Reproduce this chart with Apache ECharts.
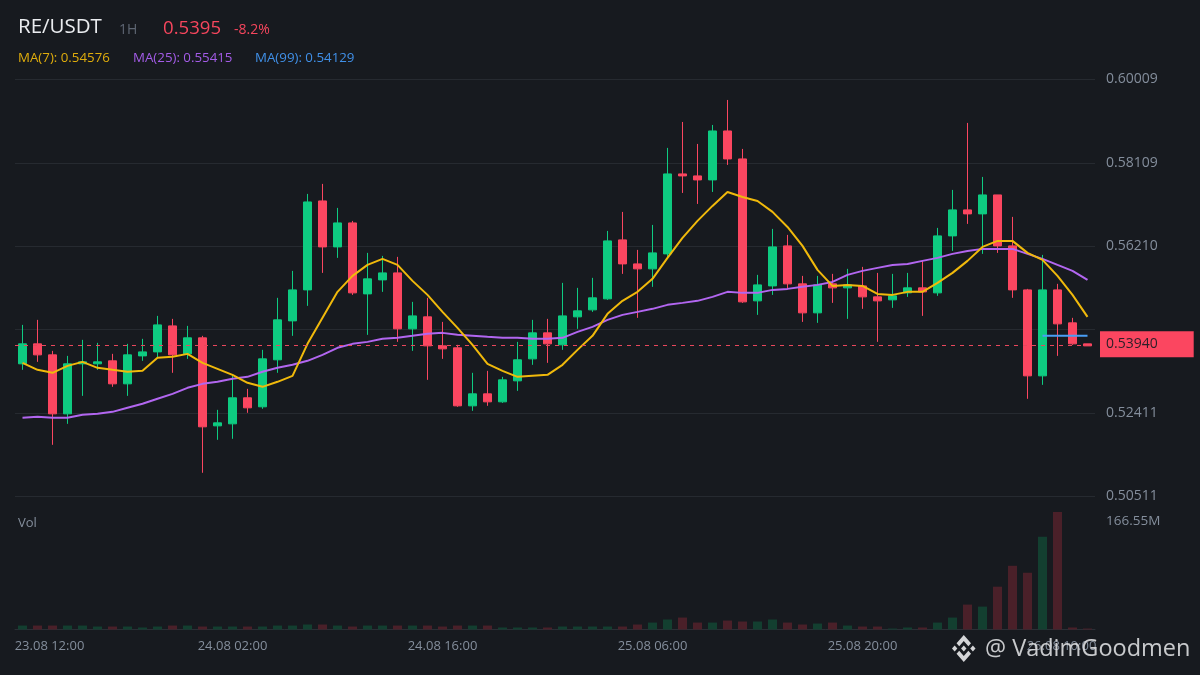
<!DOCTYPE html>
<html>
<head>
<meta charset="utf-8">
<style>html,body{margin:0;padding:0;background:#171A1F}#c{width:1200px;height:675px}</style>
<script src="https://cdn.jsdelivr.net/npm/echarts@6/dist/echarts.min.js"></script>
</head>
<body>
<div id="c"></div>
<script>
const opens = [.53533,.53988,.53737,.52394,.53533,.53533,.53601,.53077,.53714,.53805,.54397,.53760,.54125,.52120,.52166,.52759,.52554,.53624,.54511,.55217,.57243,.56196,.56742,.55126,.55445,.55604,.54330,.54603,.53942,.53897,.52576,.52849,.52667,.53145,.53646,.54238,.53965,.54603,.54762,.55013,.56356,.55809,.55696,.56037,.57858,.57813,.57722,.58837,.58200,.54967,.55308,.56219,.55354,.54694,.55354,.55263,.55308,.55058,.54990,.55149,.55263,.55149,.56447,.57039,.56948,.57380,.56219,.55217,.53259,.55217,.54466,.53988];
const closes = [.53988,.53737,.52394,.53533,.53578,.53578,.53077,.53737,.53805,.54420,.53737,.54125,.52098,.52189,.52759,.52531,.53646,.54534,.55217,.57220,.56196,.56742,.55149,.55468,.55604,.54330,.54625,.53942,.53874,.52576,.52849,.52667,.53168,.53624,.54238,.53988,.54625,.54739,.55036,.56333,.55809,.55696,.56060,.57858,.57813,.57722,.58837,.58200,.54944,.55331,.56196,.55354,.54694,.55331,.55263,.55331,.55058,.54967,.55081,.55263,.55172,.56447,.57039,.56948,.57380,.56219,.55217,.53259,.55217,.54443,.53988,.53942];
const lows = [.53396,.53578,.51688,.52166,.52803,.53396,.53009,.52803,.53601,.53669,.53328,.53646,.51051,.51802,.51825,.52417,.52508,.53328,.54170,.54853,.55604,.55946,.55103,.54193,.55172,.54033,.53828,.53168,.53646,.52554,.52462,.52576,.52644,.52917,.53510,.53555,.53851,.54330,.54716,.54990,.55582,.54580,.55286,.55946,.57425,.57175,.57448,.58063,.54921,.54648,.55103,.55240,.54488,.54466,.54921,.54557,.54785,.54033,.54807,.55058,.54625,.55081,.56105,.56720,.56037,.56060,.55036,.52736,.53054,.53714,.53965,.53942];
const highs = [.54420,.54534,.53828,.53714,.54079,.54011,.53760,.53988,.54102,.54625,.54557,.54397,.54170,.52485,.53282,.52963,.53851,.55036,.55650,.57403,.57631,.57084,.56788,.56060,.55991,.55969,.54944,.55036,.54488,.53965,.53328,.53373,.53236,.54033,.54534,.54557,.55377,.55263,.55491,.56560,.56993,.56128,.56697,.58451,.59042,.58541,.58974,.59543,.58428,.55559,.56606,.56470,.55536,.55536,.55582,.55696,.55741,.55604,.55582,.55604,.55878,.56629,.57494,.59020,.57790,.57380,.56880,.55240,.56014,.55354,.54580,.53988];
const ma7 = [.53555,.53396,.53328,.53487,.53578,.53442,.53396,.53351,.53373,.53669,.53692,.53760,.53555,.53419,.53282,.53100,.53009,.53123,.53259,.53988,.54580,.55172,.55536,.55786,.55923,.55786,.55422,.55103,.54716,.54352,.53965,.53533,.53373,.53236,.53259,.53282,.53510,.53851,.54170,.54671,.54967,.55172,.55468,.55946,.56401,.56788,.57130,.57448,.57334,.57243,.56993,.56651,.56219,.55673,.55308,.55331,.55308,.55126,.55103,.55172,.55172,.55377,.55604,.55878,.56196,.56333,.56333,.56060,.55900,.55536,.55103,.54603];
const ma25 = [.52303,.52326,.52303,.52303,.52371,.52394,.52439,.52531,.52622,.52736,.52849,.52986,.53077,.53123,.53191,.53236,.53351,.53442,.53510,.53601,.53737,.53897,.53988,.54033,.54102,.54125,.54170,.54216,.54238,.54193,.54170,.54147,.54125,.54125,.54102,.54102,.54125,.54261,.54375,.54534,.54648,.54716,.54785,.54876,.54921,.54967,.55058,.55172,.55149,.55149,.55217,.55240,.55286,.55331,.55399,.55559,.55650,.55718,.55786,.55809,.55878,.55946,.56037,.56105,.56151,.56151,.56151,.56037,.55923,.55786,.55650,.55445];
const ma99Tail = [.54170,.54170,.54170,.54170];
const volumes = [6.1,6.1,6.1,6.1,6.1,4.6,4.6,4.6,3.1,4.6,6.1,6.1,4.6,4.6,4.6,4.6,4.6,6.1,6.1,7.7,7.7,6.1,4.6,6.1,6.1,6.1,6.1,6.1,4.6,6.1,6.1,6.1,3.1,3.1,3.1,3.1,4.6,4.6,4.6,4.6,4.6,7.7,10.7,15.4,18.4,10.7,10.7,13.8,12.3,12.3,15.4,10.7,7.7,9.2,10.7,6.1,4.6,4.6,1.5,3.1,3.1,10.7,18.4,38.4,35.3,66.0,98.2,87.5,142.8,181.1,3.1,1.5];
const priceTicks = [.50511,.52411,.54310,.56210,.58109,.60009];
const priceLabels = [.50511,.52411,.56210,.58109,.60009];
const lastPriceLine = .53955;
const lastPriceTag = '0.53940';
const volumeLabel = 166.55;
const volumeMax = 184.2;
const timeTicks = {0:'23.08 12:00',14:'24.08 02:00',28:'24.08 16:00',42:'25.08 06:00',56:'25.08 20:00',70:'26.08 10:00'};

const UP='#0ECB81', DOWN='#FB4660', UPV='#133F30', DOWNV='#4A2029';
const GRAY='#848E9C', LINE='#262A30', FONT='"Open Sans","Noto Sans",sans-serif';
const categories = opens.map((_, i) => String(i));
const candles = opens.map((o, i) => [o, closes[i], lows[i], highs[i]]);
const ma99 = opens.map((_, i) => i >= opens.length - ma99Tail.length ? ma99Tail[i - opens.length + ma99Tail.length] : null);
const volData = volumes.map((v, i) => ({value: v, itemStyle: {color: closes[i] >= opens[i] ? UPV : DOWNV}}));
const head = (text, left, top, color, size) => ({text, left, top, padding: 0, textStyle: {color, fontSize: size, fontWeight: 'normal', fontFamily: FONT}});
const maLine = (name, data, color) => ({name, type: 'line', data, xAxisIndex: 0, yAxisIndex: 0, symbol: 'none', smooth: false, lineStyle: {color, width: 2}, silent: true, connectNulls: false});
const LOGO = [
  [[38.73,53.2],[63.32,28.62],[87.92,53.22],[102.22,38.91],[63.32,0],[24.42,38.9]],
  [[0,63.31],[14.31,49],[28.62,63.31],[14.31,77.62]],
  [[38.73,73.41],[63.32,97.99],[87.92,73.39],[102.23,87.68],[63.32,126.6],[24.41,87.72]],
  [[97.93,63.31],[112.24,49],[126.55,63.31],[112.24,77.62]],
  [[63.32,48.78],[77.83,63.3],[63.32,77.78],[48.81,63.28]]
];

const chart = echarts.init(document.getElementById('c'), null, {renderer: 'canvas'});
chart.setOption({
  animation: false,
  backgroundColor: '#171A1F',
  title: [
    head('RE/USDT', 18, 17, '#EAECEF', 20.5),
    head('1H', 119, 23, '#5E6673', 14),
    head('0.5395', 163, 19, '#F6465D', 18.6),
    head('-8.2%', 234, 23, '#F6465D', 14),
    head('MA(7): 0.54576', 18, 52, '#E0AD0C', 13.3),
    head('MA(25): 0.55415', 133, 52, '#A45CE8', 13.3),
    head('MA(99): 0.54129', 255, 52, '#4090E8', 13.3),
    head('Vol', 18, 517, GRAY, 13)
  ],
  grid: [
    {left: 15, right: 105, top: 79.5, height: 417},
    {left: 15, right: 105, top: 510, height: 119.5}
  ],
  xAxis: [
    {type: 'category', gridIndex: 0, data: categories, boundaryGap: true, axisLine: {show: false}, axisTick: {show: false}, axisLabel: {show: false}, splitLine: {show: false}},
    {type: 'category', gridIndex: 1, data: categories, boundaryGap: true,
      axisLine: {show: true, lineStyle: {color: '#2B2F36', width: 1}}, axisTick: {show: false}, splitLine: {show: false},
      axisLabel: {
        color: GRAY, fontSize: 13, fontFamily: FONT, margin: 10, hideOverlap: false,
        interval: i => timeTicks[i] !== undefined,
        formatter: (v, i) => i === 0 ? '{a|' + timeTicks[i] + '}' : i === 70 ? '{b|' + timeTicks[i] + '}' : (timeTicks[i] || ''),
        rich: {
          a: {color: GRAY, fontSize: 13, fontFamily: FONT, padding: [0, 0, 0, 54]},
          b: {color: GRAY, fontSize: 13, fontFamily: FONT, padding: [0, 22, 0, 0]}
        }
      }}
  ],
  yAxis: [
    {type: 'value', gridIndex: 0, position: 'right', min: priceTicks[0], max: priceTicks[5], scale: true,
      axisLine: {show: false}, axisTick: {show: false, customValues: priceTicks},
      splitLine: {show: true, lineStyle: {color: LINE, width: 1}},
      axisLabel: {color: GRAY, fontSize: 14, fontFamily: FONT, margin: 11, padding: [2, 0, 0, 0], customValues: priceLabels, formatter: v => v.toFixed(5)}},
    {type: 'value', gridIndex: 1, position: 'right', min: 0, max: volumeMax,
      axisLine: {show: false}, axisTick: {show: false}, splitLine: {show: false},
      axisLabel: {color: GRAY, fontSize: 13.5, fontFamily: FONT, margin: 11, padding: [2, 0, 0, 0], customValues: [volumeLabel], formatter: v => v.toFixed(2) + 'M'}}
  ],
  series: [
    {name: 'RE/USDT', type: 'candlestick', xAxisIndex: 0, yAxisIndex: 0, data: candles, barWidth: 8, silent: true, clip: false,
      itemStyle: {color: UP, color0: DOWN, borderColor: UP, borderColor0: DOWN, borderWidth: 1},
      markLine: {silent: true, symbol: 'none', animation: false, precision: 5,
        lineStyle: {color: '#E8475C', type: [4, 5], width: 1},
        label: {show: true, position: 'end', distance: 5, offset: [0, -1], formatter: lastPriceTag, color: '#2A1F28', fontSize: 14, fontFamily: FONT,
          backgroundColor: '#FB4660', padding: [7, 36, 5, 6], lineHeight: 14},
        data: [{yAxis: lastPriceLine}]}},
    maLine('MA(25)', ma25, '#B266F0'),
    maLine('MA(7)', ma7, '#F0B90B'),
    maLine('MA(99)', ma99, '#4A9EF5'),
    {name: 'Vol', type: 'bar', xAxisIndex: 1, yAxisIndex: 1, data: volData, barWidth: 9, silent: true}
  ],
  graphic: [
    {type: 'group', x: 952, y: 635, scaleX: 0.186, scaleY: 0.2133, z: 100,
      children: LOGO.map(points => ({type: 'polygon', shape: {points}, style: {fill: '#D4D5D7'}}))},
    {type: 'text', x: 985, y: 637, z: 100, style: {text: '@ VadimGoodmen', fill: 'rgba(225,227,229,0.88)', font: '23.5px "Open Sans","Noto Sans",sans-serif'}}
  ]
});
</script>
</body>
</html>
